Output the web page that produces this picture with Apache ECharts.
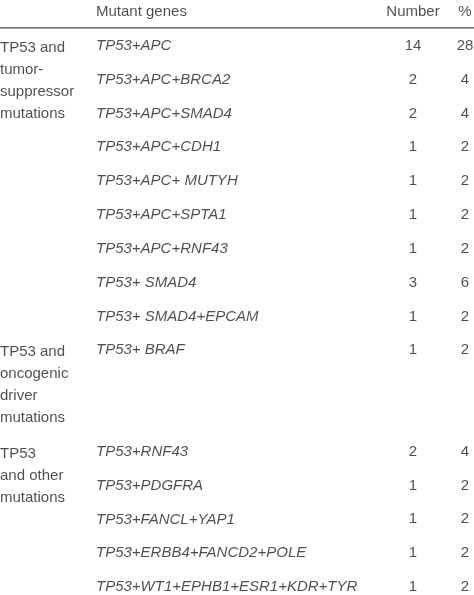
<!DOCTYPE html>
<html><head><meta charset="utf-8">
<script src="https://cdn.jsdelivr.net/npm/echarts@6/dist/echarts.min.js"></script>
<style>html,body{margin:0;padding:0;background:#fff}#c{width:474px;height:595px}</style>
</head><body><div id="c"></div>
<script>
const headers = ['Mutant genes', 'Number', '%'];
const groups = ['TP53 and\ntumor-\nsuppressor\nmutations', 'TP53 and\noncogenic\ndriver\nmutations', 'TP53\nand other\nmutations'];
const groupRows = [1, 10, 13];
const genes = ['TP53+APC','TP53+APC+BRCA2','TP53+APC+SMAD4','TP53+APC+CDH1','TP53+APC+ MUTYH','TP53+APC+SPTA1','TP53+APC+RNF43','TP53+ SMAD4','TP53+ SMAD4+EPCAM','TP53+ BRAF','TP53+RNF43','TP53+PDGFRA','TP53+FANCL+YAP1','TP53+ERBB4+FANCD2+POLE','TP53+WT1+EPHB1+ESR1+KDR+TYR'];
const numbers = [14,2,2,1,1,1,1,3,1,1,2,1,1,1,1];
const percents = [28,4,4,2,2,2,2,6,2,2,4,2,2,2,2];
const geneRows = [1,2,3,4,5,6,7,8,9,10,13,14,15,16,17];

const COL = {group: 0, gene: 96, num: 413, pct: 465};
const font = {fontFamily: 'Liberation Sans, Arial, sans-serif', fontSize: 15, color: '#231f20'};
function lab(align, italic, lh) {
  return Object.assign({show: true, position: 'inside', formatter: p => p.data.t, align: align, verticalAlign: 'middle', fontStyle: italic ? 'italic' : 'normal', lineHeight: lh || 22}, font);
}
function series(data, align, italic, vtop) {
  return {type: 'scatter', symbolSize: 0, silent: true, data: data,
    label: Object.assign(lab(align, italic), vtop ? {verticalAlign: 'top', offset: [0, -9]} : {})};
}
const hdrData = [{value: [COL.gene, 0], t: headers[0]}];
const hdrNum = [{value: [COL.num, 0], t: headers[1]}, {value: [COL.pct, 0], t: headers[2]}];
const grpData = groups.map((g, i) => ({value: [COL.group, groupRows[i]], t: g}));
const geneData = genes.map((g, i) => ({value: [COL.gene, geneRows[i]], t: g}));
const numData = numbers.map((n, i) => ({value: [COL.num, geneRows[i]], t: String(n)}));
const pctData = percents.map((n, i) => ({value: [COL.pct, geneRows[i]], t: String(n)}));

const chart = echarts.init(document.getElementById('c'));
chart.setOption({
  animation: false,
  grid: {left: 0, right: 0, top: 12, bottom: 8},
  xAxis: {type: 'value', min: 0, max: 474, show: false},
  yAxis: {type: 'value', min: 0, max: 17, inverse: true, show: false},
  series: [
    series(hdrData, 'left', false),
    series(hdrNum, 'center', false),
    series(grpData, 'left', false, true),
    series(geneData, 'left', true),
    series(numData, 'center', false),
    series(pctData, 'center', false)
  ]
});
const yLine = chart.convertToPixel({gridIndex: 0}, [0, 0.47])[1];
chart.setOption({graphic: [{type: 'line', shape: {x1: 0, y1: yLine, x2: 474, y2: yLine}, style: {stroke: '#444', lineWidth: 1.2}}]});
</script></body></html>
